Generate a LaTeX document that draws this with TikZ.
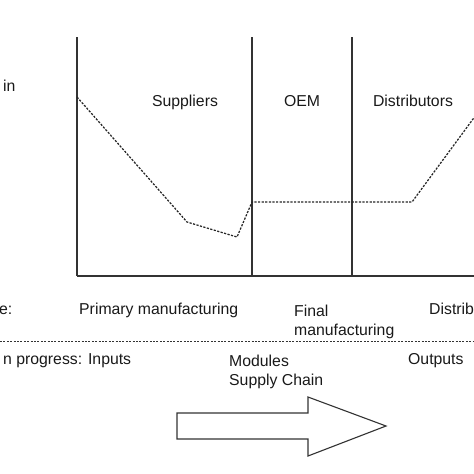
\documentclass[tikz,border=0pt]{standalone}
\usepackage{fontspec}
\setmainfont{Liberation Sans}
\begin{document}
\begin{tikzpicture}[x=1pt,y=-1pt,
  lbl/.style={font=\fontsize{15.8}{19}\selectfont, inner sep=0pt, anchor=mid west, align=left, text=black!90},
  axis/.style={draw=black!80, line width=1.2pt},
  trend/.style={draw=black!85, line width=1.25pt, dash pattern=on 2.2pt off 1.4pt},
  sep/.style={draw=black!80, line width=1pt, dash pattern=on 2pt off 1.4pt}]
\useasboundingbox (0,0) rectangle (474,474);
\clip (0,0) rectangle (474,474);
% axes and dividers
\coordinate (top0) at (77,37);
\coordinate (org) at (77,276);
\coordinate (xend) at (476,276);
\coordinate (top1) at (252,37);
\coordinate (bot1) at (252,276);
\coordinate (top2) at (352,37);
\coordinate (bot2) at (352,276);
\draw[axis] (top0) -- (org);
\draw[axis, line width=1.7pt] (org) -- (xend);
\draw[axis] (top1) -- (bot1);
\draw[axis] (top2) -- (bot2);
% trend line
\coordinate (p0) at (77,97);
\coordinate (p1) at (187,222);
\coordinate (p2) at (237,237);
\coordinate (p3) at (252,202);
\coordinate (p4) at (412,202);
\coordinate (p5) at (476,115);
\draw[trend] (p0) -- (p1) -- (p2) -- (p3) -- (p4) -- (p5);
% labels top
\node[lbl] (in) at (3,89) {in};
\node[lbl, anchor=mid] (sup) at (185,104) {Suppliers};
\node[lbl, anchor=mid] (oem) at (302,104) {OEM};
\node[lbl, anchor=mid] (dist) at (413,104) {Distributors};
% stage row
\node[lbl] (stage) at (-1,312) {e:};
\node[lbl] (prim) at (79,312) {Primary manufacturing};
\node[lbl, anchor=north west] (final) at (294,305) {Final\\manufacturing};
\node[lbl] (distb) at (429,312) {Distrib};
% separator
\coordinate (sl) at (0,341);
\coordinate (sr) at (474,341);
\draw[sep] (sl) -- (sr);
% wip row
\node[lbl] (wip) at (3,362) {n progress: Inputs};
\node[lbl, anchor=north west] (mod) at (229,355) {Modules\\Supply Chain};
\node[lbl] (out) at (408,362) {Outputs};
% big arrow
\coordinate (a1) at (177,413);
\coordinate (a2) at (308,413);
\coordinate (a3) at (308,397);
\coordinate (a4) at (386,426);
\coordinate (a5) at (308,456);
\coordinate (a6) at (308,439);
\coordinate (a7) at (177,439);
\draw[draw=black!80, line width=1.1pt, fill=white] (a1) -- (a2) -- (a3) -- (a4) -- (a5) -- (a6) -- (a7) -- cycle;
\end{tikzpicture}
\end{document}
